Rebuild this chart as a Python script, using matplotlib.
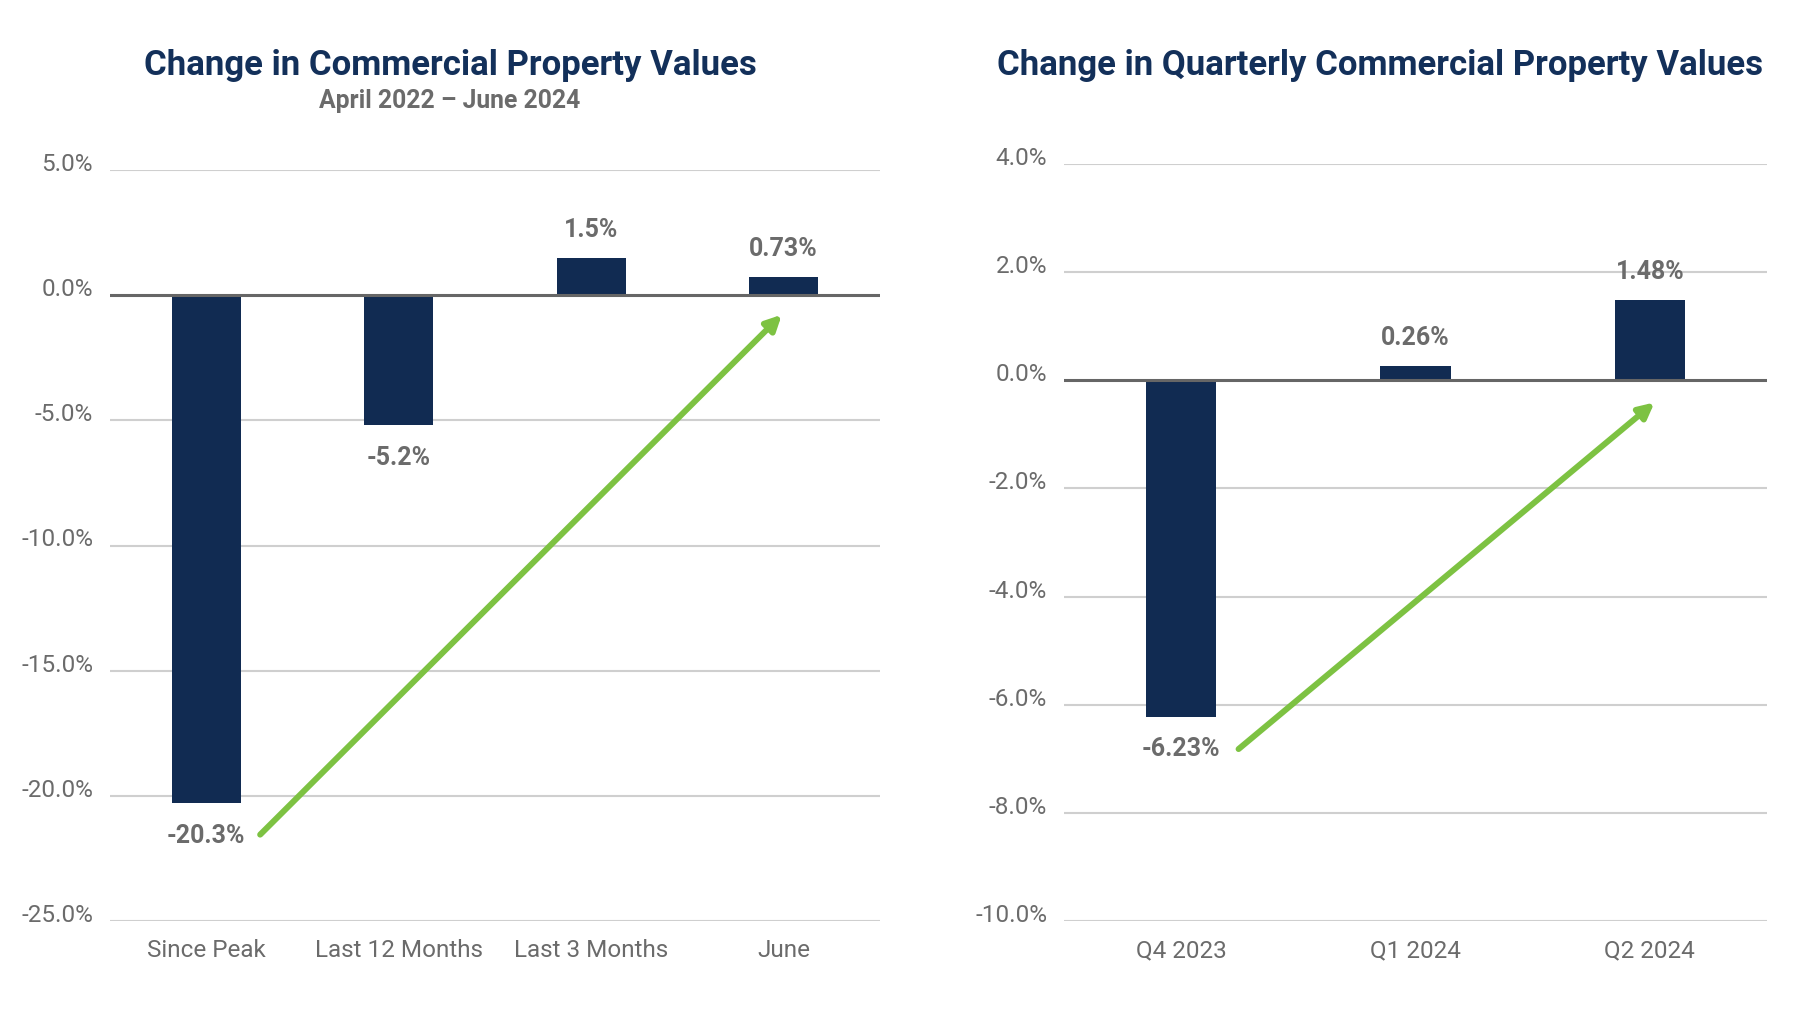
import matplotlib
matplotlib.use("Agg")
import matplotlib.pyplot as plt
from matplotlib.ticker import FuncFormatter
from matplotlib.transforms import ScaledTranslation

plt.rcParams['font.family'] = ['Roboto', 'DejaVu Sans']

# Data
left_categories = ["Since Peak", "Last 12 Months", "Last 3 Months", "June"]
left_values = [-20.3, -5.2, 1.5, 0.73]
left_labels = ["-20.3%", "-5.2%", "1.5%", "0.73%"]
left_ticks = [5, 0, -5, -10, -15, -20, -25]

right_categories = ["Q4 2023", "Q1 2024", "Q2 2024"]
right_values = [-6.23, 0.26, 1.48]
right_labels = ["-6.23%", "0.26%", "1.48%"]
right_ticks = [4, 2, 0, -2, -4, -6, -8, -10]

NAVY = "#112B52"
TITLE = "#13305A"
GREY = "#6B6B6B"
GRID = "#CFCFCF"
GREEN = "#7DC242"

fig = plt.figure(figsize=(18.12, 10.18), dpi=100)
W, H = 1812, 1018

def px_axes(x0, y0, x1, y1):
    return fig.add_axes([x0 / W, 1 - y1 / H, (x1 - x0) / W, (y1 - y0) / H])

axL = px_axes(110, 170, 880, 921)
axR = px_axes(1064, 164, 1767, 921)

def style(ax, ticks, ylim, xlim, fmt):
    ax.set_ylim(*ylim)
    ax.set_xlim(*xlim)
    ax.set_yticks(ticks)
    ax.yaxis.set_major_formatter(FuncFormatter(fmt))
    for s in ax.spines.values():
        s.set_visible(False)
    ax.tick_params(axis='both', length=0, labelsize=17.5, colors=GREY)
    ax.tick_params(axis='x', pad=13)
    for t in ticks:
        if t == 0:
            continue
        ax.axhline(t, color=GRID, lw=1.5, zorder=0)
    ax.axhline(0, color="#666666", lw=2.2, zorder=3)

style(axL, left_ticks, (-25, 5), (-0.5, 3.5), lambda v, p: f"{v:.1f}%")
style(axR, right_ticks, (-10, 4), (-0.5, 2.5), lambda v, p: f"{v:.1f}%")

# Bars
xl = range(len(left_categories))
axL.bar(xl, left_values, width=0.36, color=NAVY, zorder=2)
axL.set_xticks(list(xl))
axL.set_xticklabels(left_categories)
for i, (v, lab) in enumerate(zip(left_values, left_labels)):
    off = 1.1 if v > 0 else -1.3
    axL.text(i, v + off, lab, ha='center', va='center', fontsize=18,
             fontweight='bold', color=GREY)

xr = range(len(right_categories))
axR.bar(xr, right_values, width=0.3, color=NAVY, zorder=2)
axR.set_xticks(list(xr))
axR.set_xticklabels(right_categories)
for i, (v, lab) in enumerate(zip(right_values, right_labels)):
    off = 0.52 if v > 0 else -0.58
    axR.text(i, v + off, lab, ha='center', va='center', fontsize=18,
             fontweight='bold', color=GREY)

# Y tick labels: right-aligned, slightly raised above gridlines
for ax in (axL, axR):
    for lab in ax.get_yticklabels():
        lab.set_transform(ax.get_yaxis_transform() +
                          ScaledTranslation(-17 / 100, 8 / 100, fig.dpi_scale_trans))

# Arrows
arrow_kw = dict(arrowstyle="-|>,head_length=0.9,head_width=0.45", color=GREEN,
                lw=4.3, capstyle='round', shrinkA=0, shrinkB=0)
axL.annotate("", xy=(2.99, -0.78), xytext=(0.28, -21.55),
             arrowprops=arrow_kw, zorder=5)
axR.annotate("", xy=(2.02, -0.41), xytext=(0.245, -6.82),
             arrowprops=arrow_kw, zorder=5)

# Titles
fig.text(450 / W, 1 - 65 / H, "Change in Commercial Property Values",
         ha='center', va='center', fontsize=25, fontweight='bold', color=TITLE)
fig.text(450 / W, 1 - 101 / H, "April 2022 \u2013 June 2024",
         ha='center', va='center', fontsize=17.8, fontweight='bold', color=GREY)
fig.text(1380 / W, 1 - 65 / H, "Change in Quarterly Commercial Property Values",
         ha='center', va='center', fontsize=25, fontweight='bold', color=TITLE)

fig.savefig("out.png", dpi=100, facecolor="white")
